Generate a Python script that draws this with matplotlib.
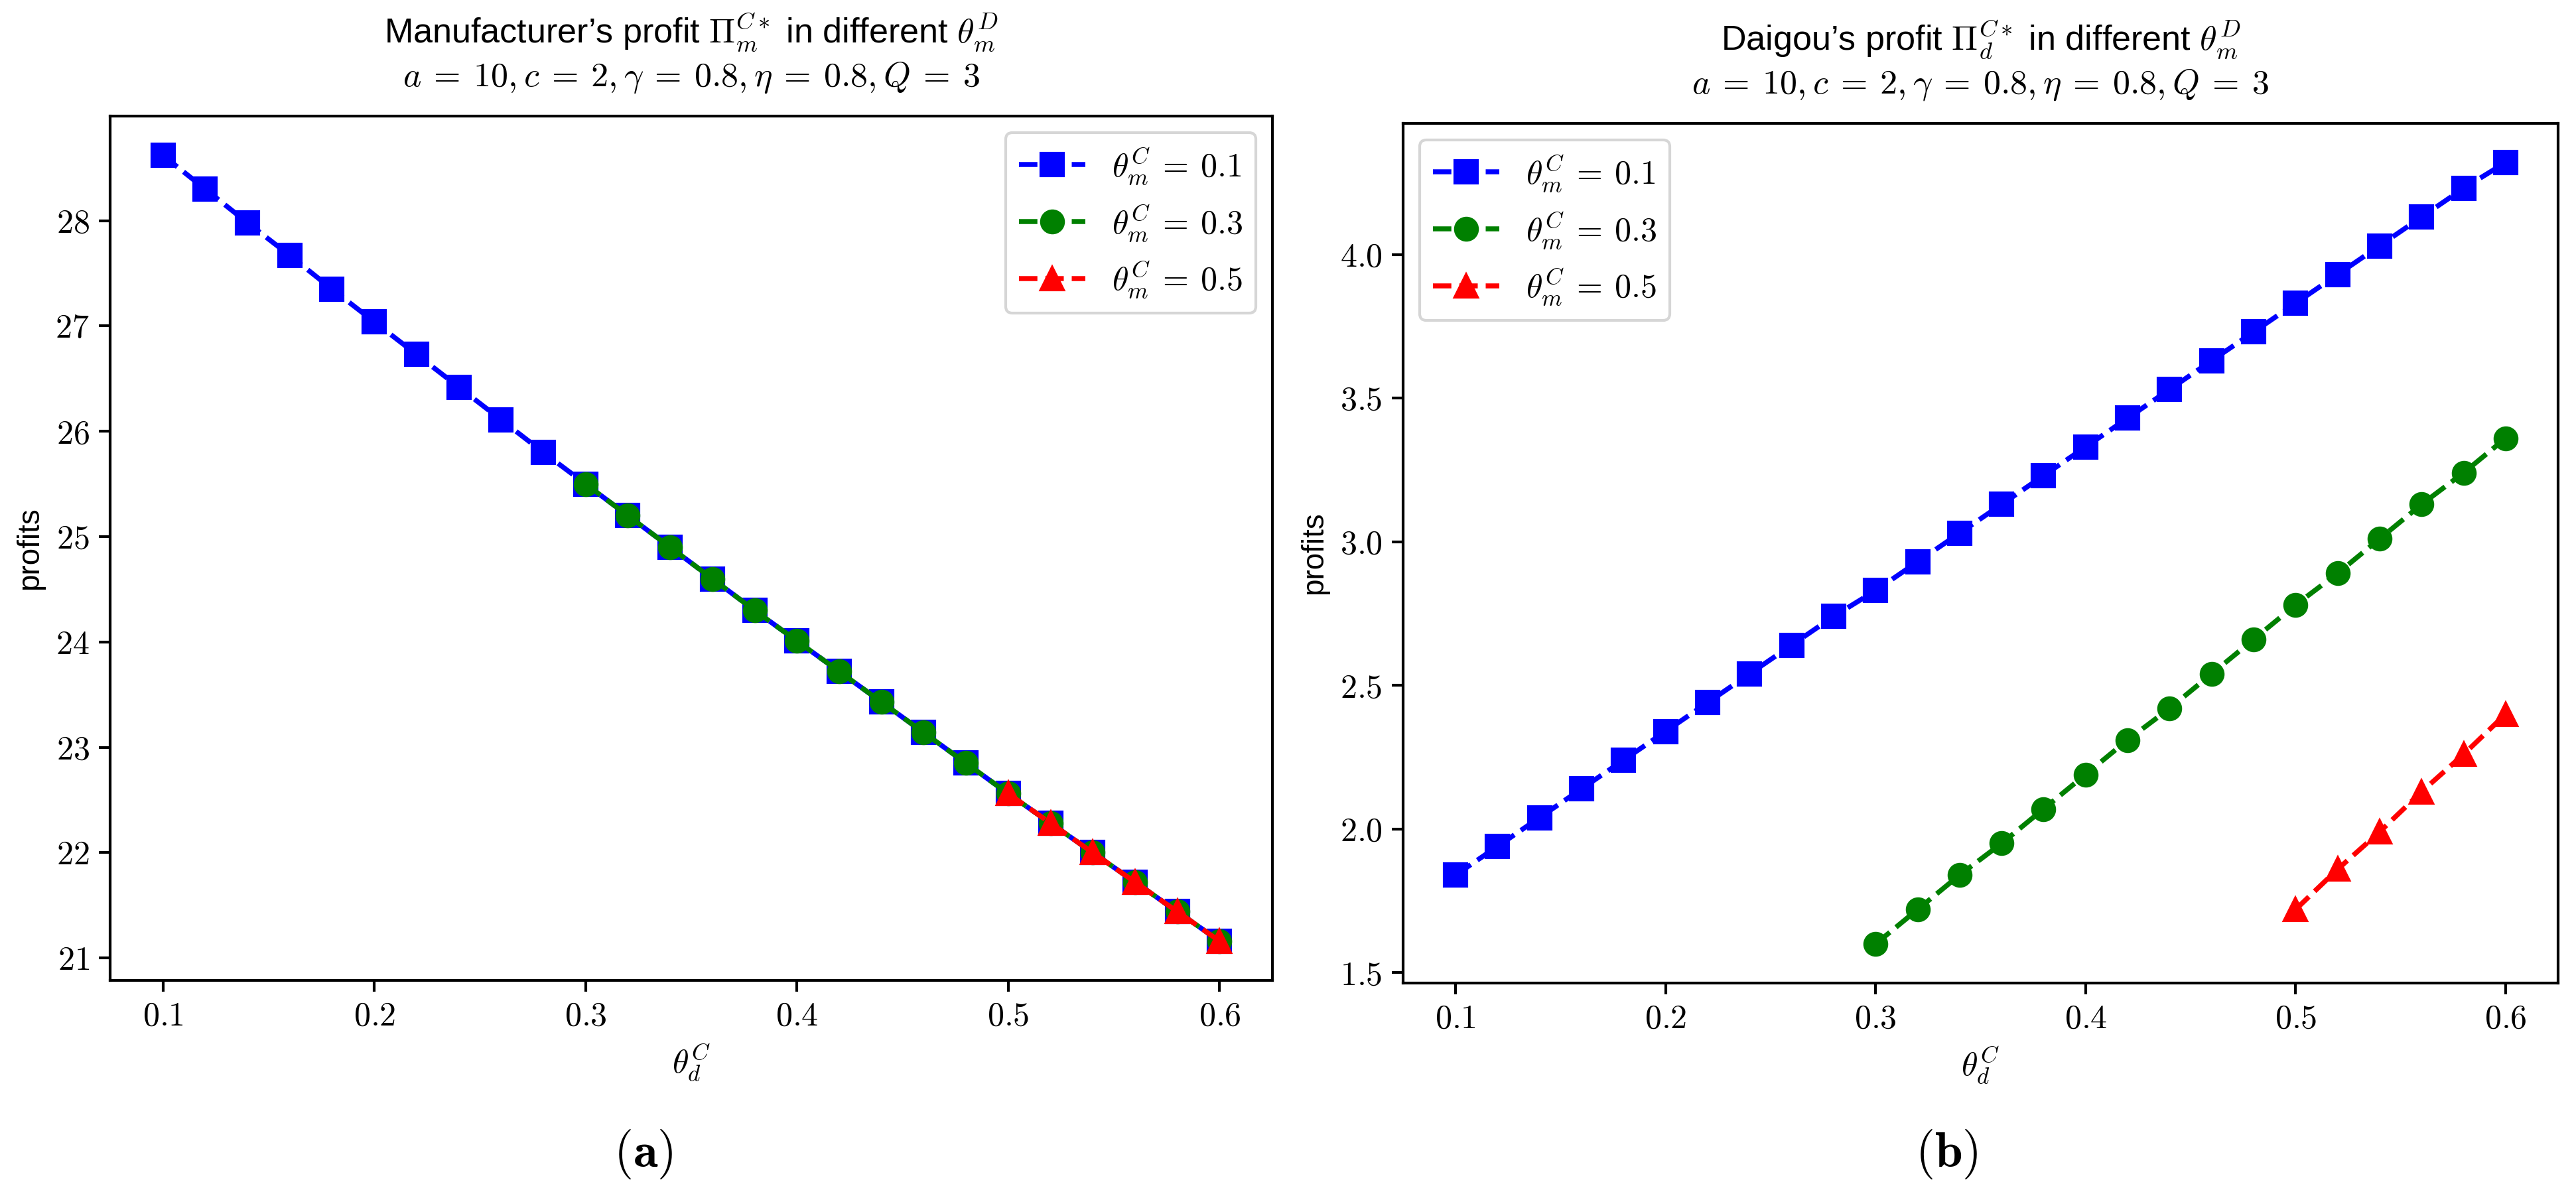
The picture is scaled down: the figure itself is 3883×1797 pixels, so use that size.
import matplotlib
matplotlib.use("Agg")
import matplotlib.pyplot as plt
from matplotlib.ticker import StrMethodFormatter, MultipleLocator

plt.rcParams['font.family'] = ['Liberation Sans', 'DejaVu Sans']
plt.rcParams['mathtext.fontset'] = 'cm'

# ---- data ----
x_01 = [0.10, 0.12, 0.14, 0.16, 0.18, 0.20, 0.22, 0.24, 0.26, 0.28, 0.30, 0.32, 0.34,
        0.36, 0.38, 0.40, 0.42, 0.44, 0.46, 0.48, 0.50, 0.52, 0.54, 0.56, 0.58, 0.60]
x_03 = [0.30, 0.32, 0.34, 0.36, 0.38, 0.40, 0.42, 0.44, 0.46, 0.48, 0.50, 0.52, 0.54,
        0.56, 0.58, 0.60]
x_05 = [0.50, 0.52, 0.54, 0.56, 0.58, 0.60]

man_01 = [28.62, 28.30, 27.98, 27.67, 27.35, 27.04, 26.73, 26.42, 26.11, 25.80, 25.50,
          25.20, 24.90, 24.60, 24.30, 24.01, 23.72, 23.43, 23.14, 22.85, 22.56, 22.28,
          22.00, 21.72, 21.44, 21.16]
man_03 = [25.50, 25.20, 24.90, 24.60, 24.30, 24.01, 23.72, 23.43, 23.14, 22.85, 22.56,
          22.28, 22.00, 21.72, 21.44, 21.16]
man_05 = [22.56, 22.28, 22.00, 21.72, 21.44, 21.16]

dai_01 = [1.84, 1.94, 2.04, 2.14, 2.24, 2.34, 2.44, 2.54, 2.64, 2.74, 2.83, 2.93, 3.03,
          3.13, 3.23, 3.33, 3.43, 3.53, 3.63, 3.73, 3.83, 3.93, 4.03, 4.13, 4.23, 4.32]
dai_03 = [1.60, 1.72, 1.84, 1.95, 2.07, 2.19, 2.31, 2.42, 2.54, 2.66, 2.78, 2.89, 3.01,
          3.13, 3.24, 3.36]
dai_05 = [1.72, 1.86, 1.99, 2.13, 2.26, 2.40]

labels = [r'$\theta_m^C\:=\:0.1$', r'$\theta_m^C\:=\:0.3$', r'$\theta_m^C\:=\:0.5$']
colors = ['blue', 'green', 'red']
markers = ['s', 'o', '^']

params = r"$a\:=\:10,c\:=\:2,\gamma\:=\:0.8,\eta\:=\:0.8,Q\:=\:3$"
titles = [
    "Manufacturer\u2019s profit $\\Pi_m^{C*}$ in different $\\theta_m^D$\n" + params,
    "Daigou\u2019s profit $\\Pi_d^{C*}$ in different $\\theta_m^D$\n" + params,
]

W, H = 3883, 1797
DPI = 300
fig = plt.figure(figsize=(W / DPI, H / DPI), dpi=DPI)

ax1 = fig.add_axes([166 / W, 1 - 1478 / H, (1918 - 166) / W, (1478 - 175) / H])
ax2 = fig.add_axes([2115 / W, 1 - 1482 / H, (3856 - 2115) / W, (1482 - 186) / H])

panels = [
    (ax1, [(x_01, man_01), (x_03, man_03), (x_05, man_05)], 'upper right', '{x:.0f}', 1.0),
    (ax2, [(x_01, dai_01), (x_03, dai_03), (x_05, dai_05)], 'upper left', '{x:.1f}', 0.5),
]

for i, (ax, series, loc, yfmt, ystep) in enumerate(panels):
    for (xs, ys), c, m, lab in zip(series, colors, markers, labels):
        ax.plot(xs, ys, linestyle='--', color=c, marker=m, markersize=8,
                linewidth=1.8, label=lab)
    ax.set_title(titles[i], fontsize=12.5, linespacing=1.25, pad=11)
    ax.set_xlabel(r'$\theta_d^C$', fontsize=12)
    ax.set_ylabel('profits', fontsize=11)
    ax.xaxis.set_major_locator(MultipleLocator(0.1))
    ax.yaxis.set_major_locator(MultipleLocator(ystep))
    ax.xaxis.set_major_formatter(StrMethodFormatter('${x:.1f}$'))
    ax.yaxis.set_major_formatter(StrMethodFormatter('$' + yfmt + '$'))
    ax.tick_params(labelsize=12, width=1.0, length=4)
    for s in ax.spines.values():
        s.set_linewidth(1.0)
    ax.legend(loc=loc, fontsize=12)

fig.text(970 / W, 1 - 1740 / H, r'$(\mathbf{a})$', ha='center', va='center', fontsize=18)
fig.text(2934 / W, 1 - 1740 / H, r'$(\mathbf{b})$', ha='center', va='center', fontsize=18)

fig.savefig('out.png', dpi=DPI)
